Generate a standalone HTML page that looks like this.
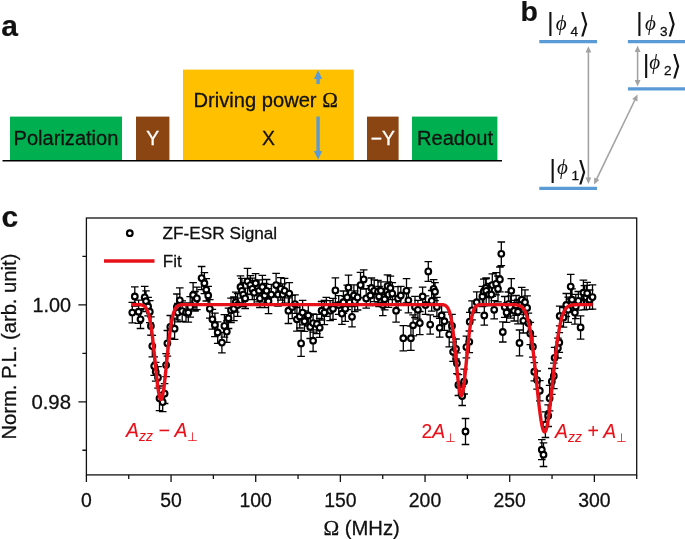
<!DOCTYPE html>
<html><head><meta charset="utf-8"><title>Figure</title>
<style>html,body{margin:0;padding:0;background:#fff}svg{display:block}</style>
</head><body>
<svg width="685" height="539" viewBox="0 0 685 539">
<rect width="685" height="539" fill="#fff"/>
<g font-family="'Liberation Sans', Arial, Helvetica, sans-serif" fill="#111">
<style>text{stroke:#111;stroke-width:.28px}text.w{stroke:#fff}text.r{stroke:#e8111a;stroke-width:.08px}text.b{stroke-width:.2px}text.k{stroke:none}</style>
<text class="b" x="1.2" y="36.4" font-size="30" font-weight="bold">a</text>
<text class="b" x="520.5" y="21.0" font-size="28.5" font-weight="bold">b</text>
<text class="b" x="1.6" y="226.5" font-size="30" font-weight="bold">c</text>
<rect x="10" y="116.6" width="112" height="43.6" fill="#00b050"/>
<rect x="136" y="116.6" width="33.4" height="43.6" fill="#8b4513"/>
<rect x="183" y="69.6" width="170.8" height="90.6" fill="#ffc000"/>
<rect x="367" y="116.6" width="31.6" height="43.6" fill="#8b4513"/>
<rect x="412" y="116.6" width="85.4" height="43.6" fill="#00b050"/>
<line x1="2.5" y1="160.8" x2="502" y2="160.8" stroke="#000" stroke-width="1.6"/>
<text x="13.6" y="145.2" font-size="19.6" textLength="104.8" lengthAdjust="spacingAndGlyphs">Polarization</text>
<text x="152.7" y="145.2" font-size="19.4" text-anchor="middle" fill="#fff" class="w">Y</text>
<text x="193.6" y="106.6" font-size="19.6" textLength="144.2" lengthAdjust="spacingAndGlyphs">Driving power <tspan font-family="'Liberation Serif', serif" font-size="20.5">Ω</tspan></text>
<text x="268.4" y="144.9" font-size="19.4" text-anchor="middle">X</text>
<text x="382.8" y="145.2" font-size="19.4" text-anchor="middle" fill="#fff" class="w">−Y</text>
<text x="417" y="145.2" font-size="19.6" textLength="76" lengthAdjust="spacingAndGlyphs">Readout</text>
<g fill="#5b9bd5" stroke="none">
<path d="M318.1 70.2 L322.3 79 L319.8 79 L319.8 84 L316.4 84 L316.4 79 L313.9 79 Z"/>
<path d="M316.4 116.4 L319.8 116.4 L319.8 151 L322.3 151 L318.1 159.8 L313.9 151 L316.4 151 Z"/>
</g>
<g stroke="#5b9bd5" stroke-width="3.2">
<line x1="539.3" y1="41.7" x2="597" y2="41.7"/>
<line x1="627.9" y1="41.7" x2="685" y2="41.7"/>
<line x1="627.9" y1="88.8" x2="685" y2="88.8"/>
<line x1="539.3" y1="188.4" x2="597" y2="188.4"/>
</g>
<line x1="588.40" y1="51.32" x2="588.40" y2="178.88" stroke="#a3a3a3" stroke-width="1.6"/><path d="M588.40 46.20 L585.50 52.60 L591.30 52.60 Z" fill="#a3a3a3"/><path d="M588.40 184.00 L585.50 177.60 L591.30 177.60 Z" fill="#a3a3a3"/>
<line x1="637.60" y1="50.72" x2="637.60" y2="81.28" stroke="#a3a3a3" stroke-width="1.6"/><path d="M637.60 45.60 L634.70 52.00 L640.50 52.00 Z" fill="#a3a3a3"/><path d="M637.60 86.40 L634.70 80.00 L640.50 80.00 Z" fill="#a3a3a3"/>
<line x1="635.37" y1="99.01" x2="596.23" y2="179.79" stroke="#a3a3a3" stroke-width="1.6"/><path d="M637.60 94.40 L632.20 98.90 L637.42 101.42 Z" fill="#a3a3a3"/><path d="M594.00 184.40 L594.18 177.38 L599.40 179.90 Z" fill="#a3a3a3"/>
<text class="k" x="547.0" y="30.5" font-size="26.2">|</text><text class="k" x="555.8" y="29.9" font-size="21" font-style="italic" font-family="'Liberation Serif', 'DejaVu Serif', serif">ϕ</text><text class="k" x="570.6" y="35.6" font-size="13.6" style="stroke:#111;stroke-width:.3px">4</text><text class="k" x="578.9" y="32.6" font-size="27.4" font-family="'DejaVu Sans', sans-serif">⟩</text>
<text class="k" x="636.1" y="30.7" font-size="26.2">|</text><text class="k" x="645.0" y="29.9" font-size="21" font-style="italic" font-family="'Liberation Serif', 'DejaVu Serif', serif">ϕ</text><text class="k" x="660.1" y="35.5" font-size="13.6" style="stroke:#111;stroke-width:.3px">3</text><text class="k" x="666.5" y="32.8" font-size="27.4" font-family="'DejaVu Sans', sans-serif">⟩</text>
<text class="k" x="642.8" y="72.9" font-size="26.2">|</text><text class="k" x="649.3" y="69.2" font-size="21" font-style="italic" font-family="'Liberation Serif', 'DejaVu Serif', serif">ϕ</text><text class="k" x="664.0" y="75.0" font-size="13.6" style="stroke:#111;stroke-width:.3px">2</text><text class="k" x="671.1" y="75.0" font-size="27.4" font-family="'DejaVu Sans', sans-serif">⟩</text>
<text class="k" x="549.2" y="178.4" font-size="26.2">|</text><text class="k" x="557.1" y="174.3" font-size="21" font-style="italic" font-family="'Liberation Serif', 'DejaVu Serif', serif">ϕ</text><text class="k" x="571.6" y="180.0" font-size="13.6" style="stroke:#111;stroke-width:.3px">1</text><text class="k" x="577.1" y="180.5" font-size="27.4" font-family="'DejaVu Sans', sans-serif">⟩</text>
<rect x="86.4" y="218.0" width="550.3" height="256.9" fill="none" stroke="#111" stroke-width="1.3"/>
<path d="M86.40 474.9 v7 M128.73 474.9 v4 M171.06 474.9 v7 M213.39 474.9 v4 M255.72 474.9 v7 M298.05 474.9 v4 M340.38 474.9 v7 M382.72 474.9 v4 M425.05 474.9 v7 M467.38 474.9 v4 M509.71 474.9 v7 M552.04 474.9 v4 M594.37 474.9 v7 M636.70 474.9 v4 M86.4 450.25 h-4 M86.4 401.80 h-8 M86.4 353.35 h-4 M86.4 304.90 h-8 M86.4 256.45 h-4" stroke="#111" stroke-width="1.3" fill="none"/>
<text x="86.4" y="506.6" font-size="19.4" text-anchor="middle">0</text>
<text x="171.1" y="506.6" font-size="19.4" text-anchor="middle">50</text>
<text x="255.7" y="506.6" font-size="19.4" text-anchor="middle">100</text>
<text x="340.4" y="506.6" font-size="19.4" text-anchor="middle">150</text>
<text x="425.0" y="506.6" font-size="19.4" text-anchor="middle">200</text>
<text x="509.7" y="506.6" font-size="19.4" text-anchor="middle">250</text>
<text x="594.4" y="506.6" font-size="19.4" text-anchor="middle">300</text>
<text x="71" y="311.9" font-size="19.4" text-anchor="end" textLength="38.6" lengthAdjust="spacingAndGlyphs">1.00</text>
<text x="71" y="408.8" font-size="19.4" text-anchor="end" textLength="39.6" lengthAdjust="spacingAndGlyphs">0.98</text>
<text x="323.4" y="534.5" font-size="19.6" textLength="76.4" lengthAdjust="spacingAndGlyphs"><tspan font-family="'Liberation Serif', serif" font-size="20.5">Ω</tspan> (MHz)</text>
<text transform="translate(16.3,439.6) rotate(-90)" font-size="19.6" textLength="186" lengthAdjust="spacingAndGlyphs">Norm. P.L. (arb. unit)</text>
<circle cx="129.8" cy="233.2" r="2.85" fill="#fff" stroke="#000" stroke-width="2.1"/>
<text x="162.6" y="239" font-size="16.8" textLength="114.6" lengthAdjust="spacingAndGlyphs">ZF-ESR Signal</text>
<line x1="104" y1="261" x2="154.5" y2="261" stroke="#e8111a" stroke-width="3.6"/>
<text x="162.8" y="267.3" font-size="17">Fit</text>
<path d="M132.3 302.3V322.9M128.5 302.3h7.6M128.5 322.9h7.6M134.8 286.9V306.1M131.0 286.9h7.6M131.0 306.1h7.6M138.6 300.1V323.3M134.8 300.1h7.6M134.8 323.3h7.6M140.5 310.0V328.5M136.7 310.0h7.6M136.7 328.5h7.6M144.7 286.3V308.6M140.9 286.3h7.6M140.9 308.6h7.6M146.0 290.8V311.7M142.2 290.8h7.6M142.2 311.7h7.6M148.1 297.3V315.8M144.3 297.3h7.6M144.3 315.8h7.6M149.8 300.6V322.7M146.0 300.6h7.6M146.0 322.7h7.6M150.9 316.8V335.1M147.1 316.8h7.6M147.1 335.1h7.6M152.3 335.4V356.9M148.5 335.4h7.6M148.5 356.9h7.6M154.2 356.8V375.3M150.4 356.8h7.6M150.4 375.3h7.6M155.7 362.4V381.1M151.9 362.4h7.6M151.9 381.1h7.6M158.0 366.7V388.1M154.2 366.7h7.6M154.2 388.1h7.6M159.5 386.0V410.6M155.7 386.0h7.6M155.7 410.6h7.6M162.7 392.6V411.6M158.9 392.6h7.6M158.9 411.6h7.6M164.6 383.7V403.5M160.8 383.7h7.6M160.8 403.5h7.6M166.1 353.6V376.6M162.3 353.6h7.6M162.3 376.6h7.6M167.4 330.5V356.1M163.6 330.5h7.6M163.6 356.1h7.6M170.3 315.5V338.2M166.5 315.5h7.6M166.5 338.2h7.6M174.6 318.2V339.3M170.8 318.2h7.6M170.8 339.3h7.6M176.9 294.0V319.8M173.1 294.0h7.6M173.1 319.8h7.6M177.9 303.4V321.8M174.1 303.4h7.6M174.1 321.8h7.6M179.8 287.9V312.7M176.0 287.9h7.6M176.0 312.7h7.6M182.2 300.9V321.3M178.4 300.9h7.6M178.4 321.3h7.6M186.0 303.0V322.2M182.2 303.0h7.6M182.2 322.2h7.6M188.3 303.1V322.1M184.5 303.1h7.6M184.5 322.1h7.6M190.2 296.7V317.2M186.4 296.7h7.6M186.4 317.2h7.6M193.1 282.7V307.2M189.3 282.7h7.6M189.3 307.2h7.6M195.0 291.5V311.0M191.2 291.5h7.6M191.2 311.0h7.6M196.9 287.1V309.7M193.1 287.1h7.6M193.1 309.7h7.6M201.6 266.5V289.6M197.8 266.5h7.6M197.8 289.6h7.6M204.4 272.7V293.7M200.6 272.7h7.6M200.6 293.7h7.6M206.3 278.7V301.0M202.5 278.7h7.6M202.5 301.0h7.6M208.2 286.3V304.8M204.4 286.3h7.6M204.4 304.8h7.6M209.8 299.6V318.1M206.0 299.6h7.6M206.0 318.1h7.6M212.4 309.4V329.1M208.6 309.4h7.6M208.6 329.1h7.6M214.9 313.2V336.7M211.1 313.2h7.6M211.1 336.7h7.6M217.7 321.8V343.3M213.9 321.8h7.6M213.9 343.3h7.6M221.9 332.3V352.9M218.1 332.3h7.6M218.1 352.9h7.6M224.4 314.6V337.2M220.6 314.6h7.6M220.6 337.2h7.6M226.8 320.8V342.4M223.0 320.8h7.6M223.0 342.4h7.6M228.5 308.1V328.5M224.7 308.1h7.6M224.7 328.5h7.6M231.0 298.2V322.5M227.2 298.2h7.6M227.2 322.5h7.6M233.9 297.0V320.6M230.1 297.0h7.6M230.1 320.6h7.6M235.7 292.2V312.2M231.9 292.2h7.6M231.9 312.2h7.6M237.6 293.7V316.3M233.8 293.7h7.6M233.8 316.3h7.6M240.5 275.9V298.1M236.7 275.9h7.6M236.7 298.1h7.6M241.9 278.3V303.3M238.1 278.3h7.6M238.1 303.3h7.6M243.3 282.7V306.5M239.5 282.7h7.6M239.5 306.5h7.6M245.2 288.2V308.5M241.4 288.2h7.6M241.4 308.5h7.6M247.5 268.4V294.2M243.7 268.4h7.6M243.7 294.2h7.6M250.4 275.6V294.6M246.6 275.6h7.6M246.6 294.6h7.6M252.3 278.2V299.6M248.5 278.2h7.6M248.5 299.6h7.6M254.2 280.7V304.7M250.4 280.7h7.6M250.4 304.7h7.6M255.6 273.6V292.8M251.8 273.6h7.6M251.8 292.8h7.6M259.0 279.8V301.8M255.2 279.8h7.6M255.2 301.8h7.6M259.9 289.2V307.5M256.1 289.2h7.6M256.1 307.5h7.6M262.4 275.3V298.7M258.6 275.3h7.6M258.6 298.7h7.6M264.7 283.5V307.6M260.9 283.5h7.6M260.9 307.6h7.6M266.6 279.5V302.1M262.8 279.5h7.6M262.8 302.1h7.6M268.5 288.7V313.7M264.7 288.7h7.6M264.7 313.7h7.6M271.3 284.3V304.8M267.5 284.3h7.6M267.5 304.8h7.6M276.1 273.3V296.9M272.3 273.3h7.6M272.3 296.9h7.6M278.0 283.2V306.0M274.2 283.2h7.6M274.2 306.0h7.6M280.8 277.6V300.2M277.0 277.6h7.6M277.0 300.2h7.6M282.7 283.8V305.4M278.9 283.8h7.6M278.9 305.4h7.6M284.6 278.4V303.2M280.8 278.4h7.6M280.8 303.2h7.6M288.4 297.9V323.5M284.6 297.9h7.6M284.6 323.5h7.6M289.3 282.7V304.5M285.5 282.7h7.6M285.5 304.5h7.6M292.2 295.3V318.6M288.4 295.3h7.6M288.4 318.6h7.6M295.0 294.8V313.3M291.2 294.8h7.6M291.2 313.3h7.6M296.9 307.5V331.1M293.1 307.5h7.6M293.1 331.1h7.6M299.8 304.8V328.0M296.0 304.8h7.6M296.0 328.0h7.6M301.1 330.4V356.3M297.3 330.4h7.6M297.3 356.3h7.6M302.6 300.3V324.9M298.8 300.3h7.6M298.8 324.9h7.6M304.5 311.0V331.3M300.7 311.0h7.6M300.7 331.3h7.6M308.3 304.9V326.0M304.5 304.9h7.6M304.5 326.0h7.6M310.2 315.2V338.5M306.4 315.2h7.6M306.4 338.5h7.6M313.1 314.0V332.1M309.3 314.0h7.6M309.3 332.1h7.6M313.1 329.9V351.5M309.3 329.9h7.6M309.3 351.5h7.6M316.9 314.3V333.7M313.1 314.3h7.6M313.1 333.7h7.6M319.7 318.3V337.3M315.9 318.3h7.6M315.9 337.3h7.6M321.6 301.5V320.0M317.8 301.5h7.6M317.8 320.0h7.6M324.4 300.5V324.7M320.6 300.5h7.6M320.6 324.7h7.6M326.3 297.4V316.4M322.5 297.4h7.6M322.5 316.4h7.6M330.1 300.7V320.7M326.3 300.7h7.6M326.3 320.7h7.6M333.0 298.3V319.4M329.2 298.3h7.6M329.2 319.4h7.6M335.4 277.9V302.9M331.6 277.9h7.6M331.6 302.9h7.6M338.7 295.7V314.4M334.9 295.7h7.6M334.9 314.4h7.6M341.9 302.8V324.4M338.1 302.8h7.6M338.1 324.4h7.6M343.4 291.0V313.4M339.6 291.0h7.6M339.6 313.4h7.6M345.3 296.3V321.4M341.5 296.3h7.6M341.5 321.4h7.6M347.2 285.2V309.7M343.4 285.2h7.6M343.4 309.7h7.6M348.5 275.1V300.0M344.7 275.1h7.6M344.7 300.0h7.6M352.0 306.7V326.9M348.2 306.7h7.6M348.2 326.9h7.6M353.9 284.9V306.2M350.1 284.9h7.6M350.1 306.2h7.6M354.8 290.8V311.7M351.0 290.8h7.6M351.0 311.7h7.6M357.6 284.9V310.0M353.8 284.9h7.6M353.8 310.0h7.6M360.5 272.3V297.9M356.7 272.3h7.6M356.7 297.9h7.6M363.7 269.8V289.0M359.9 269.8h7.6M359.9 289.0h7.6M366.2 288.7V308.1M362.4 288.7h7.6M362.4 308.1h7.6M370.4 285.6V305.5M366.6 285.6h7.6M366.6 305.5h7.6M371.4 278.0V297.9M367.6 278.0h7.6M367.6 297.9h7.6M374.2 279.9V301.7M370.4 279.9h7.6M370.4 301.7h7.6M378.0 280.4V303.1M374.2 280.4h7.6M374.2 303.1h7.6M379.0 286.4V306.5M375.2 286.4h7.6M375.2 306.5h7.6M380.9 281.8V299.8M377.1 281.8h7.6M377.1 299.8h7.6M382.8 294.4V315.7M379.0 294.4h7.6M379.0 315.7h7.6M384.7 288.9V309.8M380.9 288.9h7.6M380.9 309.8h7.6M387.5 274.8V297.3M383.7 274.8h7.6M383.7 297.3h7.6M388.5 281.8V307.4M384.7 281.8h7.6M384.7 307.4h7.6M390.4 276.2V299.7M386.6 276.2h7.6M386.6 299.7h7.6M392.3 282.6V304.7M388.5 282.6h7.6M388.5 304.7h7.6M396.1 299.3V322.2M392.3 299.3h7.6M392.3 322.2h7.6M398.0 286.7V310.1M394.2 286.7h7.6M394.2 310.1h7.6M400.8 286.3V304.8M397.0 286.3h7.6M397.0 304.8h7.6M403.3 325.6V350.8M399.5 325.6h7.6M399.5 350.8h7.6M406.5 278.7V302.9M402.7 278.7h7.6M402.7 302.9h7.6M408.4 287.8V312.8M404.6 287.8h7.6M404.6 312.8h7.6M410.9 326.0V350.4M407.1 326.0h7.6M407.1 350.4h7.6M413.1 314.8V335.9M409.3 314.8h7.6M409.3 335.9h7.6M415.0 296.3V317.5M411.2 296.3h7.6M411.2 317.5h7.6M417.9 300.4V319.2M414.1 300.4h7.6M414.1 319.2h7.6M419.8 311.5V334.6M416.0 311.5h7.6M416.0 334.6h7.6M422.6 287.2V305.7M418.8 287.2h7.6M418.8 305.7h7.6M425.5 295.8V314.3M421.7 295.8h7.6M421.7 314.3h7.6M428.3 261.6V281.3M424.5 261.6h7.6M424.5 281.3h7.6M430.2 314.9V334.2M426.4 314.9h7.6M426.4 334.2h7.6M431.7 290.5V311.2M427.9 290.5h7.6M427.9 311.2h7.6M433.6 279.7V298.1M429.8 279.7h7.6M429.8 298.1h7.6M435.0 282.7V300.7M431.2 282.7h7.6M431.2 300.7h7.6M436.9 297.3V316.5M433.1 297.3h7.6M433.1 316.5h7.6M439.7 318.4V337.2M435.9 318.4h7.6M435.9 337.2h7.6M441.6 305.0V325.9M437.8 305.0h7.6M437.8 325.9h7.6M444.4 312.1V330.3M440.6 312.1h7.6M440.6 330.3h7.6M449.2 321.9V346.9M445.4 321.9h7.6M445.4 346.9h7.6M452.0 314.4V337.4M448.2 314.4h7.6M448.2 337.4h7.6M453.1 342.2V361.4M449.3 342.2h7.6M449.3 361.4h7.6M456.0 339.0V359.0M452.2 339.0h7.6M452.2 359.0h7.6M456.9 352.8V373.6M453.1 352.8h7.6M453.1 373.6h7.6M458.4 374.6V395.5M454.6 374.6h7.6M454.6 395.5h7.6M462.2 386.5V405.5M458.4 386.5h7.6M458.4 405.5h7.6M464.1 369.2V394.0M460.3 369.2h7.6M460.3 394.0h7.6M465.5 418.5V444.5M461.7 418.5h7.6M461.7 444.5h7.6M466.4 336.2V357.9M462.6 336.2h7.6M462.6 357.9h7.6M469.3 330.8V352.7M465.5 330.8h7.6M465.5 352.7h7.6M469.7 312.4V331.1M465.9 312.4h7.6M465.9 331.1h7.6M472.0 300.9V319.8M468.2 300.9h7.6M468.2 319.8h7.6M476.7 291.8V312.6M472.9 291.8h7.6M472.9 312.6h7.6M482.4 286.4V306.5M478.6 286.4h7.6M478.6 306.5h7.6M483.8 279.1V303.7M480.0 279.1h7.6M480.0 303.7h7.6M484.3 305.8V325.1M480.5 305.8h7.6M480.5 325.1h7.6M485.7 278.9V297.0M481.9 278.9h7.6M481.9 297.0h7.6M486.2 278.0V303.6M482.4 278.0h7.6M482.4 303.6h7.6M489.0 283.5V305.7M485.2 283.5h7.6M485.2 305.7h7.6M491.4 285.0V304.2M487.6 285.0h7.6M487.6 304.2h7.6M492.3 273.9V296.3M488.5 273.9h7.6M488.5 296.3h7.6M494.2 300.7V318.9M490.4 300.7h7.6M490.4 318.9h7.6M496.1 272.7V294.9M492.3 272.7h7.6M492.3 294.9h7.6M498.0 276.0V301.8M494.2 276.0h7.6M494.2 301.8h7.6M499.9 267.0V291.9M496.1 267.0h7.6M496.1 291.9h7.6M501.3 242.0V265.6M497.5 242.0h7.6M497.5 265.6h7.6M502.8 321.9V342.0M499.0 321.9h7.6M499.0 342.0h7.6M504.7 296.5V317.4M500.9 296.5h7.6M500.9 317.4h7.6M506.6 303.0V322.3M502.8 303.0h7.6M502.8 322.3h7.6M508.5 292.0V316.2M504.7 292.0h7.6M504.7 316.2h7.6M510.4 295.8V318.1M506.6 295.8h7.6M506.6 318.1h7.6M511.3 278.7V302.9M507.5 278.7h7.6M507.5 302.9h7.6M514.2 300.4V321.0M510.4 300.4h7.6M510.4 321.0h7.6M516.1 295.5V315.3M512.3 295.5h7.6M512.3 315.3h7.6M518.0 299.4V323.9M514.2 299.4h7.6M514.2 323.9h7.6M519.5 330.0V355.9M515.7 330.0h7.6M515.7 355.9h7.6M521.7 287.3V312.1M517.9 287.3h7.6M517.9 312.1h7.6M523.3 308.6V333.0M519.5 308.6h7.6M519.5 333.0h7.6M525.0 289.9V314.5M521.2 289.9h7.6M521.2 314.5h7.6M527.1 295.9V319.8M523.3 295.9h7.6M523.3 319.8h7.6M528.4 313.1V333.0M524.6 313.1h7.6M524.6 333.0h7.6M530.3 322.4V344.6M526.5 322.4h7.6M526.5 344.6h7.6M532.9 336.3V357.1M529.1 336.3h7.6M529.1 357.1h7.6M534.3 362.6V380.9M530.5 362.6h7.6M530.5 380.9h7.6M537.1 371.0V389.2M533.3 371.0h7.6M533.3 389.2h7.6M539.8 380.6V400.8M536.0 380.6h7.6M536.0 400.8h7.6M541.8 439.6V459.7M538.0 439.6h7.6M538.0 459.7h7.6M543.5 442.9V466.5M539.7 442.9h7.6M539.7 466.5h7.6M545.4 411.8V437.5M541.6 411.8h7.6M541.6 437.5h7.6M548.2 404.9V426.5M544.4 404.9h7.6M544.4 426.5h7.6M549.6 385.4V410.9M545.8 385.4h7.6M545.8 410.9h7.6M551.8 368.5V394.4M548.0 368.5h7.6M548.0 394.4h7.6M553.8 363.1V388.7M550.0 363.1h7.6M550.0 388.7h7.6M554.6 347.4V368.3M550.8 347.4h7.6M550.8 368.3h7.6M557.9 338.2V358.0M554.1 338.2h7.6M554.1 358.0h7.6M559.3 332.6V352.4M555.5 332.6h7.6M555.5 352.4h7.6M559.7 306.2V325.8M555.9 306.2h7.6M555.9 325.8h7.6M563.5 307.5V327.2M559.7 307.5h7.6M559.7 327.2h7.6M566.3 293.5V316.5M562.5 293.5h7.6M562.5 316.5h7.6M568.2 297.2V322.4M564.4 297.2h7.6M564.4 322.4h7.6M570.7 274.3V299.0M566.9 274.3h7.6M566.9 299.0h7.6M572.0 288.8V310.6M568.2 288.8h7.6M568.2 310.6h7.6M574.9 301.0V324.2M571.1 301.0h7.6M571.1 324.2h7.6M575.8 294.3V318.7M572.0 294.3h7.6M572.0 318.7h7.6M578.3 291.5V310.2M574.5 291.5h7.6M574.5 310.2h7.6M580.6 315.8V339.1M576.8 315.8h7.6M576.8 339.1h7.6M583.4 280.1V305.3M579.6 280.1h7.6M579.6 305.3h7.6M584.4 285.7V309.9M580.6 285.7h7.6M580.6 309.9h7.6M586.3 285.4V309.4M582.5 285.4h7.6M582.5 309.4h7.6M587.2 282.4V304.2M583.4 282.4h7.6M583.4 304.2h7.6M589.7 290.0V309.4M585.9 290.0h7.6M585.9 309.4h7.6M592.5 284.9V309.2M588.7 284.9h7.6M588.7 309.2h7.6" stroke="#000" stroke-width="1.3" fill="none"/>
<g fill="#fff" stroke="#000" stroke-width="2.1">
<circle cx="132.3" cy="312.6" r="2.85"/>
<circle cx="134.8" cy="296.5" r="2.85"/>
<circle cx="138.6" cy="311.7" r="2.85"/>
<circle cx="140.5" cy="319.3" r="2.85"/>
<circle cx="144.7" cy="297.4" r="2.85"/>
<circle cx="146.0" cy="301.2" r="2.85"/>
<circle cx="148.1" cy="306.5" r="2.85"/>
<circle cx="149.8" cy="311.7" r="2.85"/>
<circle cx="150.9" cy="325.9" r="2.85"/>
<circle cx="152.3" cy="346.1" r="2.85"/>
<circle cx="154.2" cy="366.1" r="2.85"/>
<circle cx="155.7" cy="371.7" r="2.85"/>
<circle cx="158.0" cy="377.4" r="2.85"/>
<circle cx="159.5" cy="398.3" r="2.85"/>
<circle cx="162.7" cy="402.1" r="2.85"/>
<circle cx="164.6" cy="393.6" r="2.85"/>
<circle cx="166.1" cy="365.1" r="2.85"/>
<circle cx="167.4" cy="343.3" r="2.85"/>
<circle cx="170.3" cy="326.9" r="2.85"/>
<circle cx="174.6" cy="328.7" r="2.85"/>
<circle cx="176.9" cy="306.9" r="2.85"/>
<circle cx="177.9" cy="312.6" r="2.85"/>
<circle cx="179.8" cy="300.3" r="2.85"/>
<circle cx="182.2" cy="311.1" r="2.85"/>
<circle cx="186.0" cy="312.6" r="2.85"/>
<circle cx="188.3" cy="312.6" r="2.85"/>
<circle cx="190.2" cy="306.9" r="2.85"/>
<circle cx="193.1" cy="295.0" r="2.85"/>
<circle cx="195.0" cy="301.2" r="2.85"/>
<circle cx="196.9" cy="298.4" r="2.85"/>
<circle cx="201.6" cy="278.1" r="2.85"/>
<circle cx="204.4" cy="283.2" r="2.85"/>
<circle cx="206.3" cy="289.8" r="2.85"/>
<circle cx="208.2" cy="295.5" r="2.85"/>
<circle cx="209.8" cy="308.8" r="2.85"/>
<circle cx="212.4" cy="319.3" r="2.85"/>
<circle cx="214.9" cy="325.0" r="2.85"/>
<circle cx="217.7" cy="332.5" r="2.85"/>
<circle cx="221.9" cy="342.6" r="2.85"/>
<circle cx="224.4" cy="325.9" r="2.85"/>
<circle cx="226.8" cy="331.6" r="2.85"/>
<circle cx="228.5" cy="318.3" r="2.85"/>
<circle cx="231.0" cy="310.3" r="2.85"/>
<circle cx="233.9" cy="308.8" r="2.85"/>
<circle cx="235.7" cy="302.2" r="2.85"/>
<circle cx="237.6" cy="305.0" r="2.85"/>
<circle cx="240.5" cy="287.0" r="2.85"/>
<circle cx="241.9" cy="290.8" r="2.85"/>
<circle cx="243.3" cy="294.6" r="2.85"/>
<circle cx="245.2" cy="298.4" r="2.85"/>
<circle cx="247.5" cy="281.3" r="2.85"/>
<circle cx="250.4" cy="285.1" r="2.85"/>
<circle cx="252.3" cy="288.9" r="2.85"/>
<circle cx="254.2" cy="292.7" r="2.85"/>
<circle cx="255.6" cy="283.2" r="2.85"/>
<circle cx="259.0" cy="290.8" r="2.85"/>
<circle cx="259.9" cy="298.4" r="2.85"/>
<circle cx="262.4" cy="287.0" r="2.85"/>
<circle cx="264.7" cy="295.5" r="2.85"/>
<circle cx="266.6" cy="290.8" r="2.85"/>
<circle cx="268.5" cy="301.2" r="2.85"/>
<circle cx="271.3" cy="294.6" r="2.85"/>
<circle cx="276.1" cy="285.1" r="2.85"/>
<circle cx="278.0" cy="294.6" r="2.85"/>
<circle cx="280.8" cy="288.9" r="2.85"/>
<circle cx="282.7" cy="294.6" r="2.85"/>
<circle cx="284.6" cy="290.8" r="2.85"/>
<circle cx="288.4" cy="310.7" r="2.85"/>
<circle cx="289.3" cy="293.6" r="2.85"/>
<circle cx="292.2" cy="306.9" r="2.85"/>
<circle cx="295.0" cy="304.1" r="2.85"/>
<circle cx="296.9" cy="319.3" r="2.85"/>
<circle cx="299.8" cy="316.4" r="2.85"/>
<circle cx="301.1" cy="343.4" r="2.85"/>
<circle cx="302.6" cy="312.6" r="2.85"/>
<circle cx="304.5" cy="321.2" r="2.85"/>
<circle cx="308.3" cy="315.5" r="2.85"/>
<circle cx="310.2" cy="326.9" r="2.85"/>
<circle cx="313.1" cy="323.1" r="2.85"/>
<circle cx="313.1" cy="340.7" r="2.85"/>
<circle cx="316.9" cy="324.0" r="2.85"/>
<circle cx="319.7" cy="327.8" r="2.85"/>
<circle cx="321.6" cy="310.7" r="2.85"/>
<circle cx="324.4" cy="312.6" r="2.85"/>
<circle cx="326.3" cy="306.9" r="2.85"/>
<circle cx="330.1" cy="310.7" r="2.85"/>
<circle cx="333.0" cy="308.8" r="2.85"/>
<circle cx="335.4" cy="290.4" r="2.85"/>
<circle cx="338.7" cy="305.0" r="2.85"/>
<circle cx="341.9" cy="313.6" r="2.85"/>
<circle cx="343.4" cy="302.2" r="2.85"/>
<circle cx="345.3" cy="308.8" r="2.85"/>
<circle cx="347.2" cy="297.4" r="2.85"/>
<circle cx="348.5" cy="287.6" r="2.85"/>
<circle cx="352.0" cy="316.8" r="2.85"/>
<circle cx="353.9" cy="295.5" r="2.85"/>
<circle cx="354.8" cy="301.2" r="2.85"/>
<circle cx="357.6" cy="297.4" r="2.85"/>
<circle cx="360.5" cy="285.1" r="2.85"/>
<circle cx="363.7" cy="279.4" r="2.85"/>
<circle cx="366.2" cy="298.4" r="2.85"/>
<circle cx="370.4" cy="295.5" r="2.85"/>
<circle cx="371.4" cy="288.0" r="2.85"/>
<circle cx="374.2" cy="290.8" r="2.85"/>
<circle cx="378.0" cy="291.7" r="2.85"/>
<circle cx="379.0" cy="296.5" r="2.85"/>
<circle cx="380.9" cy="290.8" r="2.85"/>
<circle cx="382.8" cy="305.0" r="2.85"/>
<circle cx="384.7" cy="299.3" r="2.85"/>
<circle cx="387.5" cy="286.1" r="2.85"/>
<circle cx="388.5" cy="294.6" r="2.85"/>
<circle cx="390.4" cy="288.0" r="2.85"/>
<circle cx="392.3" cy="293.6" r="2.85"/>
<circle cx="396.1" cy="310.7" r="2.85"/>
<circle cx="398.0" cy="298.4" r="2.85"/>
<circle cx="400.8" cy="295.5" r="2.85"/>
<circle cx="403.3" cy="338.2" r="2.85"/>
<circle cx="406.5" cy="290.8" r="2.85"/>
<circle cx="408.4" cy="300.3" r="2.85"/>
<circle cx="410.9" cy="338.2" r="2.85"/>
<circle cx="413.1" cy="325.3" r="2.85"/>
<circle cx="415.0" cy="306.9" r="2.85"/>
<circle cx="417.9" cy="309.8" r="2.85"/>
<circle cx="419.8" cy="323.1" r="2.85"/>
<circle cx="422.6" cy="296.5" r="2.85"/>
<circle cx="425.5" cy="305.0" r="2.85"/>
<circle cx="428.3" cy="271.4" r="2.85"/>
<circle cx="430.2" cy="324.6" r="2.85"/>
<circle cx="431.7" cy="300.9" r="2.85"/>
<circle cx="433.6" cy="288.9" r="2.85"/>
<circle cx="435.0" cy="291.7" r="2.85"/>
<circle cx="436.9" cy="306.9" r="2.85"/>
<circle cx="439.7" cy="327.8" r="2.85"/>
<circle cx="441.6" cy="315.5" r="2.85"/>
<circle cx="444.4" cy="321.2" r="2.85"/>
<circle cx="449.2" cy="334.4" r="2.85"/>
<circle cx="452.0" cy="325.9" r="2.85"/>
<circle cx="453.1" cy="351.8" r="2.85"/>
<circle cx="456.0" cy="349.0" r="2.85"/>
<circle cx="456.9" cy="363.2" r="2.85"/>
<circle cx="458.4" cy="385.0" r="2.85"/>
<circle cx="462.2" cy="396.0" r="2.85"/>
<circle cx="464.1" cy="381.6" r="2.85"/>
<circle cx="465.5" cy="431.5" r="2.85"/>
<circle cx="466.4" cy="347.1" r="2.85"/>
<circle cx="469.3" cy="341.8" r="2.85"/>
<circle cx="469.7" cy="321.7" r="2.85"/>
<circle cx="472.0" cy="310.3" r="2.85"/>
<circle cx="476.7" cy="302.2" r="2.85"/>
<circle cx="482.4" cy="296.5" r="2.85"/>
<circle cx="483.8" cy="291.4" r="2.85"/>
<circle cx="484.3" cy="315.5" r="2.85"/>
<circle cx="485.7" cy="288.0" r="2.85"/>
<circle cx="486.2" cy="290.8" r="2.85"/>
<circle cx="489.0" cy="294.6" r="2.85"/>
<circle cx="491.4" cy="294.6" r="2.85"/>
<circle cx="492.3" cy="285.1" r="2.85"/>
<circle cx="494.2" cy="309.8" r="2.85"/>
<circle cx="496.1" cy="283.8" r="2.85"/>
<circle cx="498.0" cy="288.9" r="2.85"/>
<circle cx="499.9" cy="279.4" r="2.85"/>
<circle cx="501.3" cy="253.8" r="2.85"/>
<circle cx="502.8" cy="332.0" r="2.85"/>
<circle cx="504.7" cy="306.9" r="2.85"/>
<circle cx="506.6" cy="312.6" r="2.85"/>
<circle cx="508.5" cy="304.1" r="2.85"/>
<circle cx="510.4" cy="306.9" r="2.85"/>
<circle cx="511.3" cy="290.8" r="2.85"/>
<circle cx="514.2" cy="310.7" r="2.85"/>
<circle cx="516.1" cy="305.4" r="2.85"/>
<circle cx="518.0" cy="311.7" r="2.85"/>
<circle cx="519.5" cy="343.0" r="2.85"/>
<circle cx="521.7" cy="299.7" r="2.85"/>
<circle cx="523.3" cy="320.8" r="2.85"/>
<circle cx="525.0" cy="302.2" r="2.85"/>
<circle cx="527.1" cy="307.9" r="2.85"/>
<circle cx="528.4" cy="323.1" r="2.85"/>
<circle cx="530.3" cy="333.5" r="2.85"/>
<circle cx="532.9" cy="346.7" r="2.85"/>
<circle cx="534.3" cy="371.7" r="2.85"/>
<circle cx="537.1" cy="380.1" r="2.85"/>
<circle cx="539.8" cy="390.7" r="2.85"/>
<circle cx="541.8" cy="449.7" r="2.85"/>
<circle cx="543.5" cy="454.7" r="2.85"/>
<circle cx="545.4" cy="424.6" r="2.85"/>
<circle cx="548.2" cy="415.7" r="2.85"/>
<circle cx="549.6" cy="398.2" r="2.85"/>
<circle cx="551.8" cy="381.5" r="2.85"/>
<circle cx="553.8" cy="375.9" r="2.85"/>
<circle cx="554.6" cy="357.8" r="2.85"/>
<circle cx="557.9" cy="348.1" r="2.85"/>
<circle cx="559.3" cy="342.5" r="2.85"/>
<circle cx="559.7" cy="316.0" r="2.85"/>
<circle cx="563.5" cy="317.4" r="2.85"/>
<circle cx="566.3" cy="305.0" r="2.85"/>
<circle cx="568.2" cy="309.8" r="2.85"/>
<circle cx="570.7" cy="286.6" r="2.85"/>
<circle cx="572.0" cy="299.7" r="2.85"/>
<circle cx="574.9" cy="312.6" r="2.85"/>
<circle cx="575.8" cy="306.5" r="2.85"/>
<circle cx="578.3" cy="300.9" r="2.85"/>
<circle cx="580.6" cy="327.4" r="2.85"/>
<circle cx="583.4" cy="292.7" r="2.85"/>
<circle cx="584.4" cy="297.8" r="2.85"/>
<circle cx="586.3" cy="297.4" r="2.85"/>
<circle cx="587.2" cy="293.3" r="2.85"/>
<circle cx="589.7" cy="299.7" r="2.85"/>
<circle cx="592.5" cy="297.1" r="2.85"/>
</g>
<path d="M131.27 304.61 L132.12 304.61 L132.96 304.61 L133.81 304.61 L134.66 304.61 L135.50 304.61 L136.35 304.62 L137.20 304.63 L138.04 304.64 L138.89 304.67 L139.74 304.72 L140.58 304.79 L141.43 304.92 L142.28 305.11 L143.12 305.41 L143.97 305.86 L144.82 306.51 L145.66 307.45 L146.51 308.76 L147.36 310.54 L148.20 312.91 L149.05 315.98 L149.90 319.84 L150.74 324.57 L151.59 330.22 L152.44 336.76 L153.28 344.11 L154.13 352.09 L154.98 360.47 L155.82 368.91 L156.67 377.05 L157.52 384.46 L158.36 390.75 L159.21 395.55 L160.06 398.55 L160.90 399.57 L161.75 398.55 L162.60 395.55 L163.44 390.75 L164.29 384.46 L165.14 377.05 L165.98 368.91 L166.83 360.47 L167.68 352.09 L168.52 344.11 L169.37 336.76 L170.21 330.22 L171.06 324.57 L171.91 319.84 L172.75 315.98 L173.60 312.91 L174.45 310.54 L175.29 308.76 L176.14 307.45 L176.99 306.51 L177.83 305.86 L178.68 305.41 L179.53 305.11 L180.37 304.92 L181.22 304.79 L182.07 304.72 L182.91 304.67 L183.76 304.64 L184.61 304.63 L185.45 304.62 L186.30 304.61 L187.15 304.61 L187.99 304.61 L188.84 304.61 L189.69 304.61 L190.53 304.61 L191.38 304.61 L192.23 304.61 L193.07 304.61 L193.92 304.61 L194.77 304.61 L195.61 304.61 L196.46 304.61 L197.31 304.61 L198.15 304.61 L199.00 304.61 L199.85 304.61 L200.69 304.61 L201.54 304.61 L202.39 304.61 L203.23 304.61 L204.08 304.61 L204.93 304.61 L205.77 304.61 L206.62 304.61 L207.47 304.61 L208.31 304.61 L209.16 304.61 L210.01 304.61 L210.85 304.61 L211.70 304.61 L212.55 304.61 L213.39 304.61 L214.24 304.61 L215.09 304.61 L215.93 304.61 L216.78 304.61 L217.63 304.61 L218.47 304.61 L219.32 304.61 L220.17 304.61 L221.01 304.61 L221.86 304.61 L222.71 304.61 L223.55 304.61 L224.40 304.61 L225.24 304.61 L226.09 304.61 L226.94 304.61 L227.78 304.61 L228.63 304.61 L229.48 304.61 L230.32 304.61 L231.17 304.61 L232.02 304.61 L232.86 304.61 L233.71 304.61 L234.56 304.61 L235.40 304.61 L236.25 304.61 L237.10 304.61 L237.94 304.61 L238.79 304.61 L239.64 304.61 L240.48 304.61 L241.33 304.61 L242.18 304.61 L243.02 304.61 L243.87 304.61 L244.72 304.61 L245.56 304.61 L246.41 304.61 L247.26 304.61 L248.10 304.61 L248.95 304.61 L249.80 304.61 L250.64 304.61 L251.49 304.61 L252.34 304.61 L253.18 304.61 L254.03 304.61 L254.88 304.61 L255.72 304.61 L256.57 304.61 L257.42 304.61 L258.26 304.61 L259.11 304.61 L259.96 304.61 L260.80 304.61 L261.65 304.61 L262.50 304.61 L263.34 304.61 L264.19 304.61 L265.04 304.61 L265.88 304.61 L266.73 304.61 L267.58 304.61 L268.42 304.61 L269.27 304.61 L270.12 304.61 L270.96 304.61 L271.81 304.61 L272.66 304.61 L273.50 304.61 L274.35 304.61 L275.20 304.61 L276.04 304.61 L276.89 304.61 L277.74 304.61 L278.58 304.61 L279.43 304.61 L280.27 304.61 L281.12 304.61 L281.97 304.61 L282.81 304.61 L283.66 304.61 L284.51 304.61 L285.35 304.61 L286.20 304.61 L287.05 304.61 L287.89 304.61 L288.74 304.61 L289.59 304.61 L290.43 304.61 L291.28 304.61 L292.13 304.61 L292.97 304.61 L293.82 304.61 L294.67 304.61 L295.51 304.61 L296.36 304.61 L297.21 304.61 L298.05 304.61 L298.90 304.61 L299.75 304.61 L300.59 304.61 L301.44 304.61 L302.29 304.61 L303.13 304.61 L303.98 304.61 L304.83 304.61 L305.67 304.61 L306.52 304.61 L307.37 304.61 L308.21 304.61 L309.06 304.61 L309.91 304.61 L310.75 304.61 L311.60 304.61 L312.45 304.61 L313.29 304.61 L314.14 304.61 L314.99 304.61 L315.83 304.61 L316.68 304.61 L317.53 304.61 L318.37 304.61 L319.22 304.61 L320.07 304.61 L320.91 304.61 L321.76 304.61 L322.61 304.61 L323.45 304.61 L324.30 304.61 L325.15 304.61 L325.99 304.61 L326.84 304.61 L327.69 304.61 L328.53 304.61 L329.38 304.61 L330.23 304.61 L331.07 304.61 L331.92 304.61 L332.77 304.61 L333.61 304.61 L334.46 304.61 L335.30 304.61 L336.15 304.61 L337.00 304.61 L337.84 304.61 L338.69 304.61 L339.54 304.61 L340.38 304.61 L341.23 304.61 L342.08 304.61 L342.92 304.61 L343.77 304.61 L344.62 304.61 L345.46 304.61 L346.31 304.61 L347.16 304.61 L348.00 304.61 L348.85 304.61 L349.70 304.61 L350.54 304.61 L351.39 304.61 L352.24 304.61 L353.08 304.61 L353.93 304.61 L354.78 304.61 L355.62 304.61 L356.47 304.61 L357.32 304.61 L358.16 304.61 L359.01 304.61 L359.86 304.61 L360.70 304.61 L361.55 304.61 L362.40 304.61 L363.24 304.61 L364.09 304.61 L364.94 304.61 L365.78 304.61 L366.63 304.61 L367.48 304.61 L368.32 304.61 L369.17 304.61 L370.02 304.61 L370.86 304.61 L371.71 304.61 L372.56 304.61 L373.40 304.61 L374.25 304.61 L375.10 304.61 L375.94 304.61 L376.79 304.61 L377.64 304.61 L378.48 304.61 L379.33 304.61 L380.18 304.61 L381.02 304.61 L381.87 304.61 L382.72 304.61 L383.56 304.61 L384.41 304.61 L385.26 304.61 L386.10 304.61 L386.95 304.61 L387.80 304.61 L388.64 304.61 L389.49 304.61 L390.33 304.61 L391.18 304.61 L392.03 304.61 L392.87 304.61 L393.72 304.61 L394.57 304.61 L395.41 304.61 L396.26 304.61 L397.11 304.61 L397.95 304.61 L398.80 304.61 L399.65 304.61 L400.49 304.61 L401.34 304.61 L402.19 304.61 L403.03 304.61 L403.88 304.61 L404.73 304.61 L405.57 304.61 L406.42 304.61 L407.27 304.61 L408.11 304.61 L408.96 304.61 L409.81 304.61 L410.65 304.61 L411.50 304.61 L412.35 304.61 L413.19 304.61 L414.04 304.61 L414.89 304.61 L415.73 304.61 L416.58 304.61 L417.43 304.61 L418.27 304.61 L419.12 304.61 L419.97 304.61 L420.81 304.61 L421.66 304.61 L422.51 304.61 L423.35 304.61 L424.20 304.61 L425.05 304.61 L425.89 304.61 L426.74 304.61 L427.59 304.61 L428.43 304.61 L429.28 304.61 L430.13 304.61 L430.97 304.61 L431.82 304.61 L432.67 304.61 L433.51 304.61 L434.36 304.61 L435.21 304.61 L436.05 304.61 L436.90 304.61 L437.75 304.61 L438.59 304.62 L439.44 304.63 L440.29 304.64 L441.13 304.67 L441.98 304.71 L442.83 304.80 L443.67 304.94 L444.52 305.17 L445.36 305.53 L446.21 306.09 L447.06 306.93 L447.90 308.15 L448.75 309.88 L449.60 312.26 L450.44 315.42 L451.29 319.50 L452.14 324.59 L452.98 330.73 L453.83 337.88 L454.68 345.89 L455.52 354.53 L456.37 363.42 L457.22 372.11 L458.06 380.10 L458.91 386.86 L459.76 391.94 L460.60 394.94 L461.45 395.65 L462.30 394.01 L463.14 390.14 L463.99 384.34 L464.84 377.02 L465.68 368.69 L466.53 359.86 L467.38 351.02 L468.22 342.60 L469.07 334.90 L469.92 328.15 L470.76 322.43 L471.61 317.75 L472.46 314.05 L473.30 311.22 L474.15 309.12 L475.00 307.61 L475.84 306.55 L476.69 305.83 L477.54 305.36 L478.38 305.06 L479.23 304.87 L480.08 304.76 L480.92 304.69 L481.77 304.65 L482.62 304.63 L483.46 304.62 L484.31 304.62 L485.16 304.61 L486.00 304.61 L486.85 304.61 L487.70 304.61 L488.54 304.61 L489.39 304.61 L490.24 304.61 L491.08 304.61 L491.93 304.61 L492.78 304.61 L493.62 304.61 L494.47 304.61 L495.32 304.61 L496.16 304.61 L497.01 304.61 L497.86 304.61 L498.70 304.61 L499.55 304.61 L500.39 304.61 L501.24 304.61 L502.09 304.61 L502.93 304.61 L503.78 304.61 L504.63 304.61 L505.47 304.61 L506.32 304.61 L507.17 304.61 L508.01 304.61 L508.86 304.62 L509.71 304.62 L510.55 304.63 L511.40 304.64 L512.25 304.65 L513.09 304.67 L513.94 304.70 L514.79 304.74 L515.63 304.81 L516.48 304.90 L517.33 305.02 L518.17 305.20 L519.02 305.43 L519.87 305.76 L520.71 306.18 L521.56 306.75 L522.41 307.48 L523.25 308.42 L524.10 309.62 L524.95 311.12 L525.79 312.98 L526.64 315.24 L527.49 317.98 L528.33 321.23 L529.18 325.04 L530.03 329.46 L530.87 334.49 L531.72 340.16 L532.57 346.43 L533.41 353.26 L534.26 360.59 L535.11 368.32 L535.95 376.32 L536.80 384.43 L537.65 392.49 L538.49 400.29 L539.34 407.65 L540.19 414.35 L541.03 420.20 L541.88 425.02 L542.73 428.67 L543.57 431.02 L544.42 432.00 L545.27 431.58 L546.11 429.77 L546.96 426.63 L547.81 422.26 L548.65 416.80 L549.50 410.42 L550.35 403.30 L551.19 395.65 L552.04 387.67 L552.89 379.56 L553.73 371.50 L554.58 363.64 L555.42 356.14 L556.27 349.10 L557.12 342.59 L557.96 336.68 L558.81 331.40 L559.66 326.74 L560.50 322.68 L561.35 319.21 L562.20 316.28 L563.04 313.83 L563.89 311.82 L564.74 310.18 L565.58 308.87 L566.43 307.83 L567.28 307.02 L568.12 306.39 L568.97 305.91 L569.82 305.55 L570.66 305.28 L571.51 305.09 L572.36 304.94 L573.20 304.84 L574.05 304.77 L574.90 304.72 L575.74 304.68 L576.59 304.66 L577.44 304.64 L578.28 304.63 L579.13 304.62 L579.98 304.62 L580.82 304.61 L581.67 304.61 L582.52 304.61 L583.36 304.61 L584.21 304.61 L585.06 304.61 L585.90 304.61 L586.75 304.61 L587.60 304.61 L588.44 304.61 L589.29 304.61 L590.14 304.61 L590.98 304.61 L591.83 304.61 L592.68 304.61" fill="none" stroke="#e8111a" stroke-width="3.4" stroke-linejoin="round"/>
<text x="126.1" y="437.4" font-size="19.4" fill="#e8111a" font-style="italic" class="r">A<tspan font-size="14" dy="4">zz</tspan><tspan dy="-4"> − A</tspan><tspan font-family="'DejaVu Sans', sans-serif" font-style="normal" font-size="12" dy="4">⊥</tspan></text>
<text x="421.5" y="437.6" font-size="19.4" fill="#e8111a" font-style="italic" class="r"><tspan font-style="normal">2</tspan>A<tspan font-family="'DejaVu Sans', sans-serif" font-style="normal" font-size="12" dy="4">⊥</tspan></text>
<text x="555" y="437.6" font-size="19.4" fill="#e8111a" font-style="italic" class="r">A<tspan font-size="14" dy="4">zz</tspan><tspan dy="-4"> + A</tspan><tspan font-family="'DejaVu Sans', sans-serif" font-style="normal" font-size="12" dy="4">⊥</tspan></text>
</g></svg>
</body></html>
